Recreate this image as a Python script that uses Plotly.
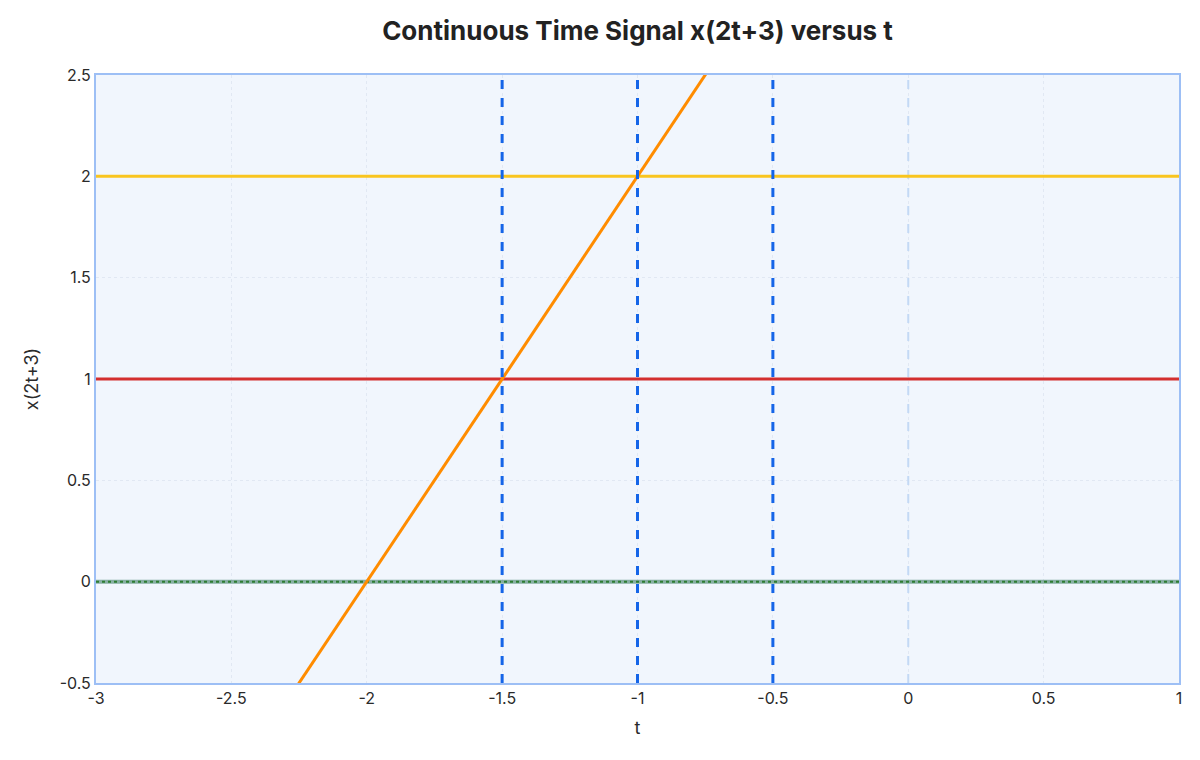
import plotly.graph_objects as go

# Data
t_ramp = [-3, -2, -1.5, -1, 1]
y_ramp = [-2, 0, 1, 2, 6]
t_span = [-3, 1]
level_yellow = [2, 2]
level_red = [1, 1]
level_green = [0, 0]
vlines_blue = [-1.5, -1, -0.5]
x_ticks = [-3, -2.5, -2, -1.5, -1, -0.5, 0, 0.5, 1]
y_ticks = [-0.5, 0, 0.5, 1, 1.5, 2, 2.5]

FONT = "Inter, Lato, sans-serif"

fig = go.Figure()

# zero reference line (light blue dashed)
fig.add_trace(go.Scatter(x=[0, 0], y=[-0.5, 2.5], mode="lines",
                         line=dict(color="#c3d9f5", width=2, dash="dash"),
                         showlegend=False, hoverinfo="skip"))

fig.add_trace(go.Scatter(x=t_span, y=level_green, mode="lines",
                         line=dict(color="rgba(90,145,125,0.7)", width=4),
                         showlegend=False))
fig.add_trace(go.Scatter(x=t_span, y=level_green, mode="lines",
                         line=dict(color="#2e7d32", width=2, dash="dot"),
                         showlegend=False))
fig.add_trace(go.Scatter(x=t_span, y=level_red, mode="lines",
                         line=dict(color="#d32f2f", width=3), showlegend=False))
fig.add_trace(go.Scatter(x=t_span, y=level_yellow, mode="lines",
                         line=dict(color="#f9c51f", width=3), showlegend=False))
fig.add_trace(go.Scatter(x=t_ramp, y=y_ramp, mode="lines",
                         line=dict(color="#ff8c00", width=3), showlegend=False))

for xv in vlines_blue:
    fig.add_trace(go.Scatter(x=[xv, xv], y=[-0.5, 2.5], mode="lines",
                             line=dict(color="#1565e8", width=3, dash="dash"),
                             showlegend=False))

fig.update_layout(
    width=1200, height=760,
    margin=dict(l=88, r=29, t=67, b=85),
    paper_bgcolor="white",
    plot_bgcolor="#f1f6fd",
    font=dict(family=FONT, size=16, color="#2a2a2a"),
    title=dict(text="<b>Continuous Time Signal x(2t+3) versus t</b>",
               x=0.5, xref="paper", xanchor="center", y=0.97, yanchor="middle",
               font=dict(family=FONT, size=26, color="#222222")),
    xaxis=dict(range=[-3, 1], tickvals=x_ticks, ticktext=[f"{v:g}" for v in x_ticks],
               showgrid=True, gridcolor="#e1e8f3", griddash="dot", gridwidth=1,
               zeroline=False, showline=True, linecolor="#9dbff5", linewidth=2,
               mirror=True, ticks="", title=dict(text="t", standoff=14,
               font=dict(size=18))),
    yaxis=dict(range=[-0.5, 2.5], tickvals=y_ticks, ticktext=[f"{v:g}" for v in y_ticks],
               showgrid=True, gridcolor="#e1e8f3", griddash="dot", gridwidth=1,
               zeroline=False, showline=True, linecolor="#9dbff5", linewidth=2,
               mirror=True, ticks="", title=dict(text="x(2t+3)", standoff=16,
               font=dict(size=18))),
)

fig.write_html("out.html")
